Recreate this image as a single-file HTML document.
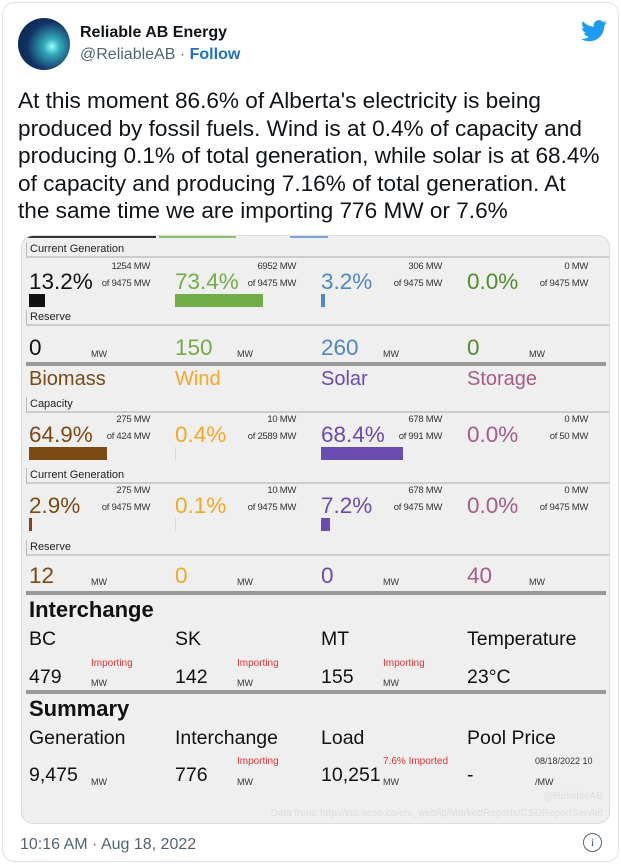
<!DOCTYPE html>
<html><head><meta charset="utf-8"><style>
body{margin:0;width:621px;height:864px;background:#fff;font-family:"Liberation Sans",sans-serif;position:relative;overflow:hidden}
.t{position:absolute;white-space:nowrap}
.card{position:absolute;left:2px;top:2px;width:615px;height:858px;border:1px solid #dfe3e6;border-radius:12px}
.img{position:absolute;left:21px;top:235px;width:587px;height:587px;background:#efefef;border:1px solid #d8dde0;border-radius:12px;overflow:hidden}
.lbl{position:absolute;left:4px;width:580px;border-left:1px solid #bbb;border-bottom:2px solid #ccc;font-size:11px;color:#222;padding-left:3px;height:14px;line-height:14px}
.thick{position:absolute;left:4px;width:580px;height:4px;background:#999}
.big{font-size:22.5px}
.sm{font-size:9.5px;letter-spacing:-0.3px;color:#333;text-align:right;width:120px}
.mw{font-size:9px;color:#333}
.imp{font-size:10px;color:#d33}
.h{font-size:22px;font-weight:bold;color:#111}
.s{font-size:19.5px;color:#111}
</style></head><body>
<div class="card"></div>
<div class="t" style="left:18px;top:18px;width:52px;height:52px;border-radius:50%;background:radial-gradient(circle at 65% 55%,#9ff 0,#3ab 18%,#136 55%,#0a1f33 100%)"></div>
<div class="t" style="left:80px;top:24px;font-size:16px;font-weight:bold;color:#0f1419">Reliable AB Energy</div>
<div class="t" style="left:80px;top:46px;font-size:16px;color:#536471">@ReliableAB · <span style="color:#1d6fc9;font-weight:bold">Follow</span></div>
<svg class="t" style="left:581px;top:20px" width="26" height="22" viewBox="0 0 24 20"><path fill="#1d9bf0" d="M24 2.4c-.9.4-1.8.7-2.8.8 1-.6 1.8-1.6 2.2-2.7-1 .6-2 1-3.1 1.2C19.3.7 18 0 16.6 0c-2.7 0-4.9 2.2-4.9 4.9 0 .4 0 .8.1 1.1C7.7 5.8 4.1 3.9 1.7.9c-.4.7-.7 1.6-.7 2.5 0 1.7.9 3.2 2.2 4.1-.8 0-1.6-.2-2.2-.6v.1c0 2.4 1.7 4.4 3.9 4.8-.4.1-.8.2-1.3.2-.3 0-.6 0-.9-.1.6 2 2.4 3.4 4.6 3.4-1.7 1.3-3.8 2.1-6.1 2.1-.4 0-.8 0-1.2-.1 2.2 1.4 4.8 2.2 7.5 2.2 9.1 0 14-7.5 14-14v-.6c1-.7 1.8-1.6 2.5-2.5z"/></svg>
<div class="t" style="left:18px;top:87px;font-size:22.6px;line-height:27.5px;color:#0f1419;width:610px">At this moment 86.6% of Alberta's electricity is being<br>produced by fossil fuels. Wind is at 0.4% of capacity and<br>producing 0.1% of total generation, while solar is at 68.4%<br>of capacity and producing 7.16% of total generation. At<br>the same time we are importing 776 MW or 7.6%</div>

<div class="img" id="img">
<div class="t" style="left:6px;top:0;width:128px;height:2px;background:#333"></div>
<div class="t" style="left:137px;top:0;width:77px;height:2px;background:#8ec070"></div>
<div class="t" style="left:268px;top:0;width:38px;height:2px;background:#7aa6dd"></div>
<div class="lbl" style="top:6px">Current Generation</div>
<div class="lbl" style="top:74px">Reserve</div>
<div class="thick" style="top:126px"></div>
<div class="lbl" style="top:161px">Capacity</div>
<div class="lbl" style="top:232px">Current Generation</div>
<div class="lbl" style="top:304px">Reserve</div>
<div class="thick" style="top:355px"></div>
<div class="thick" style="top:454px"></div>
<div class="t h" style="left:7px;top:361px">Interchange</div>
<div class="t h" style="left:7px;top:460px">Summary</div>
<div class="t" style="right:6px;top:555px;font-size:10px;color:#ddd">@ReliableAB</div>
<div class="t" style="right:6px;top:572px;font-size:10px;color:#ddd">Data from: http://ets.aeso.ca/ets_web/ip/Market/Reports/CSDReportServlet</div>
</div>
<div class="t" style="left:20px;top:836px;font-size:16px;color:#536471">10:16 AM · Aug 18, 2022</div>
<div class="t" style="left:583px;top:833px;width:17px;height:17px;border:1.5px solid #536471;border-radius:50%;font-size:12px;line-height:17px;text-align:center;color:#536471;font-family:'Liberation Serif',serif">i</div>

<script>
const names1=["Coal","Gas","Hydro","Other"];
const genPct1=[13.2,73.4,3.2,0.0];
const genMW1=[1254,6952,306,0];
const reserve1=[0,150,260,0];
const colors1=["#111","#70ad47","#4f86c6","#4e8f2a"];
const names2=["Biomass","Wind","Solar","Storage"];
const capPct2=[64.9,0.4,68.4,0.0];
const capMW2=[275,10,678,0];
const capTot2=[424,2589,991,50];
const genPct2=[2.9,0.1,7.2,0.0];
const genMW2=[275,10,678,0];
const reserve2=[12,0,0,40];
const colors2=["#7b4a12","#f5a623","#6a4bb0","#a85b85"];
const regions=["BC","SK","MT"];
const interVals=[479,142,155];
const sumLabels=["Generation","Interchange","Load","Pool Price"];
const sumVals=["9,475","776","10,251","-"];
const totalGen=9475;

const img=document.getElementById('img');
const colX=i=>7+i*146;
const barScale=p=>p*1.2;
function add(cls,x,y,txt,style){const d=document.createElement('div');d.className='t '+cls;d.style.left=x+'px';d.style.top=y+'px';if(style)d.style.cssText+=style;d.textContent=txt;img.appendChild(d);return d;}
function pctBlock(pct,mw,tot,col,i,y,key){
  const a=add('big',colX(i),y-2,pct.toFixed(1)+'%','color:'+col);
  
  
  const b=add('sm',colX(i)+1,y-10,mw+' MW');
  
  
  const c=add('sm',colX(i)+1,y+7,'of '+tot+' MW');
  
  
  const w=barScale(pct);
  if(w>0){const bar=add('',colX(i),y+23,'','width:'+Math.max(1,w)+'px;height:13px;background:'+col+(pct<1?';opacity:.35':''));
  
  }
}
function reserve(v,col,i,y,key){
  const a=add('big',colX(i),y-2,String(v),'color:'+col);
  
  
  const m=add('mw',colX(i)+62,y+12,'MW');
  
  
}
for(let i=0;i<4;i++){
  pctBlock(genPct1[i],genMW1[i],totalGen,colors1[i],i,35,'gen1');
  reserve(reserve1[i],colors1[i],i,101,'r1');
  const n=add('',colX(i),132,names2[i],'font-size:20px;color:'+colors2[i]);
  
  
  pctBlock(capPct2[i],capMW2[i],capTot2[i],colors2[i],i,188,'cap2');
  pctBlock(genPct2[i],genMW2[i],totalGen,colors2[i],i,259,'gen2');
  reserve(reserve2[i],colors2[i],i,329,'r2');
}
for(let i=0;i<4;i++){
  const l=add('s',colX(i),392,i<3?regions[i]:'Temperature');
  
  
  const v=add('s',colX(i),430,i<3?String(interVals[i]):'23°C');
  
  
  if(i<3){const p=add('imp',colX(i)+62,422,'Importing');
  
  
  const m=add('mw',colX(i)+62,442,'MW');
  
  }
  const sl=add('s',colX(i),491,sumLabels[i]);
  
  
  const sv=add('s',colX(i),528,sumVals[i]);
  
  
}
const tags=[[0,'','MW'],[1,'Importing','MW'],[2,'7.6% Imported','MW']];
tags.forEach(([i,t,u])=>{
  if(t){const p=add('imp',colX(i)+62,520,t);}
  const m=add('mw',colX(i)+62,541,u);
  
  
});
const pd=add('mw',colX(3)+68,520,'08/18/2022 10');


const pu=add('mw',colX(3)+68,541,'/MW');


</script>
</body></html>
